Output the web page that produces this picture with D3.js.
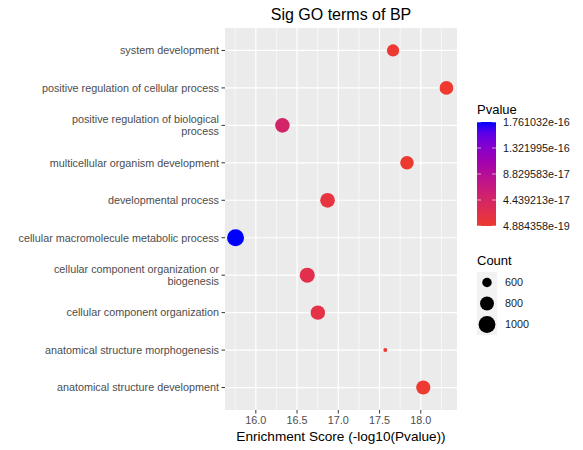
<!DOCTYPE html>
<html>
<head>
<meta charset="utf-8">
<script src="https://cdn.jsdelivr.net/npm/d3@7"></script>
<style>
  body { margin: 0; background: #fff; }
  svg { font-family: "Liberation Sans", Arial, sans-serif; }
</style>
</head>
<body>
<svg id="chart" width="583" height="450"></svg>
<script>
// GO terms, top to bottom
const terms = [
    "system development",
    "positive regulation of cellular process",
    "positive regulation of biological\nprocess",
    "multicellular organism development",
    "developmental process",
    "cellular macromolecule metabolic process",
    "cellular component organization or\nbiogenesis",
    "cellular component organization",
    "anatomical structure morphogenesis",
    "anatomical structure development"
];
const pvalues = [2.17e-18, 4.884358e-19, 4.76e-17, 1.47e-18, 1.35e-17,
    1.761032e-16, 2.38e-17, 1.77e-17, 2.69e-18, 9.33e-19];
const counts = [712, 792, 837, 780, 849, 1010, 874, 832, 510, 815];

const xTicks = [16.0, 16.5, 17.0, 17.5, 18.0];
const pBreaks = [1.761032e-16, 1.321995e-16, 8.829583e-17, 4.439213e-17, 4.884358e-19];
const countBreaks = [600, 800, 1000];

const svg = d3.select('#chart');
const panel = { left: 225, right: 457, top: 28, bottom: 410 };

const scores = pvalues.map(p => -Math.log10(p));
const sMin = d3.min(scores), sMax = d3.max(scores);
const pad = (sMax - sMin) * 0.05;

const x = d3.scaleLinear()
    .domain([sMin - pad, sMax + pad])
    .range([panel.left, panel.right]);
const y = d3.scalePoint()
    .domain(terms)
    .range([panel.top, panel.bottom])
    .padding(0.6);

const pExtent = d3.extent(pvalues);
const color = d3.scaleLinear()
    .domain(pExtent)
    .range(["#ee3a2f", "#0000ff"])
    .interpolate(d3.interpolateLab);

const cExtent = d3.extent(counts);
function radius(c) {
    let t = (c - cExtent[0]) / (cExtent[1] - cExtent[0]);
    return 2 + 6.5 * Math.sqrt(Math.max(0, t));
}

// panel background + grid
svg.append('rect')
    .attr('x', panel.left).attr('y', panel.top)
    .attr('width', panel.right - panel.left)
    .attr('height', panel.bottom - panel.top)
    .attr('fill', '#ebebeb');

let minor = [];
for (let v = 15.75; v <= 18.5; v += 0.5) {
    if (x(v) > panel.left && x(v) < panel.right) minor.push(v);
}
svg.append('g').selectAll('line')
    .data(minor)
    .enter().append('line')
    .attr('x1', d => x(d)).attr('x2', d => x(d))
    .attr('y1', panel.top).attr('y2', panel.bottom)
    .attr('stroke', '#fff').attr('stroke-width', 0.6);

svg.append('g').selectAll('line')
    .data(xTicks)
    .enter().append('line')
    .attr('x1', d => x(d)).attr('x2', d => x(d))
    .attr('y1', panel.top).attr('y2', panel.bottom)
    .attr('stroke', '#fff').attr('stroke-width', 1.2);

svg.append('g').selectAll('line')
    .data(terms)
    .enter().append('line')
    .attr('x1', panel.left).attr('x2', panel.right)
    .attr('y1', d => y(d)).attr('y2', d => y(d))
    .attr('stroke', '#fff').attr('stroke-width', 1.2);

// points
let pts = terms.map((t, i) => ({ term: t, p: pvalues[i], score: scores[i], count: counts[i] }));
svg.append('g').selectAll('circle')
    .data(pts)
    .enter().append('circle')
    .attr('cx', d => x(d.score))
    .attr('cy', d => y(d.term))
    .attr('r', d => radius(d.count))
    .attr('fill', d => color(d.p));

// x axis
let xAxis = svg.append('g');
xAxis.selectAll('line')
    .data(xTicks)
    .enter().append('line')
    .attr('x1', d => x(d)).attr('x2', d => x(d))
    .attr('y1', panel.bottom).attr('y2', panel.bottom + 3.5)
    .attr('stroke', '#333');
xAxis.selectAll('text')
    .data(xTicks)
    .enter().append('text')
    .attr('x', d => x(d))
    .attr('y', panel.bottom + 14)
    .attr('text-anchor', 'middle')
    .attr('font-size', 10.8)
    .attr('fill', '#4d4d4d')
    .text(d => d.toFixed(1));

svg.append('text')
    .attr('x', (panel.left + panel.right) / 2)
    .attr('y', 441)
    .attr('text-anchor', 'middle')
    .attr('font-size', 13.6)
    .attr('fill', '#000')
    .text('Enrichment Score (-log10(Pvalue))');

// y axis
let yAxis = svg.append('g');
yAxis.selectAll('line')
    .data(terms)
    .enter().append('line')
    .attr('x1', panel.left - 3.5).attr('x2', panel.left)
    .attr('y1', d => y(d)).attr('y2', d => y(d))
    .attr('stroke', '#333');
yAxis.selectAll('text')
    .data(terms)
    .enter().append('text')
    .attr('text-anchor', 'end')
    .attr('font-size', 10.8)
    .attr('fill', '#4d4d4d')
    .each(function (d) {
        let lines = d.split('\n');
        let sel = d3.select(this);
        let lh = 12;
        let y0 = y(d) - (lines.length - 1) * lh / 2;
        lines.forEach((l, j) => {
            sel.append('tspan')
                .attr('x', panel.left - 6)
                .attr('y', y0 + j * lh)
                .attr('dy', '0.35em')
                .text(l);
        });
    });

// title
svg.append('text')
    .attr('x', (panel.left + panel.right) / 2)
    .attr('y', 20)
    .attr('text-anchor', 'middle')
    .attr('font-size', 16)
    .attr('fill', '#000')
    .text('Sig GO terms of BP');

// colour legend
let cbar = { x: 477, y: 122, w: 19, h: 104 };
svg.append('text')
    .attr('x', cbar.x).attr('y', 114)
    .attr('font-size', 13)
    .text('Pvalue');

let defs = svg.append('defs');
let grad = defs.append('linearGradient')
    .attr('id', 'pgrad')
    .attr('x1', 0).attr('y1', 1).attr('x2', 0).attr('y2', 0);
d3.range(0, 1.0001, 0.1).forEach(t => {
    grad.append('stop')
        .attr('offset', t)
        .attr('stop-color', color(pExtent[0] + t * (pExtent[1] - pExtent[0])));
});
svg.append('rect')
    .attr('x', cbar.x).attr('y', cbar.y)
    .attr('width', cbar.w).attr('height', cbar.h)
    .attr('fill', 'url(#pgrad)');

let cy = d3.scaleLinear().domain(pExtent).range([cbar.y + cbar.h, cbar.y]);
let cl = svg.append('g');
cl.selectAll('line.l')
    .data(pBreaks)
    .enter().append('line')
    .attr('x1', cbar.x).attr('x2', cbar.x + 4)
    .attr('y1', d => cy(d)).attr('y2', d => cy(d))
    .attr('stroke', '#fff').attr('stroke-width', 0.6);
cl.selectAll('line.r')
    .data(pBreaks)
    .enter().append('line')
    .attr('x1', cbar.x + cbar.w - 4).attr('x2', cbar.x + cbar.w)
    .attr('y1', d => cy(d)).attr('y2', d => cy(d))
    .attr('stroke', '#fff').attr('stroke-width', 0.6);
cl.selectAll('text')
    .data(pBreaks)
    .enter().append('text')
    .attr('x', cbar.x + cbar.w + 7)
    .attr('y', d => cy(d))
    .attr('dy', '0.35em')
    .attr('font-size', 10.8)
    .attr('fill', '#1a1a1a')
    .text(d => d.toExponential(6).replace(/e([+-])(\d)$/, 'e$10$2'));

// size legend
svg.append('text')
    .attr('x', cbar.x).attr('y', 265)
    .attr('font-size', 13)
    .text('Count');

let keyH = 21;
let sl = svg.append('g').selectAll('g')
    .data(countBreaks)
    .enter().append('g')
    .attr('transform', (d, i) => 'translate(' + cbar.x + ',' + (272 + i * keyH) + ')');
sl.append('rect')
    .attr('width', 20).attr('height', keyH)
    .attr('fill', '#f2f2f2');
sl.append('circle')
    .attr('cx', 10).attr('cy', keyH / 2)
    .attr('r', d => radius(d))
    .attr('fill', '#000');
sl.append('text')
    .attr('x', 28).attr('y', keyH / 2)
    .attr('dy', '0.35em')
    .attr('font-size', 10.8)
    .attr('fill', '#1a1a1a')
    .text(d => d);
</script>
</body>
</html>
